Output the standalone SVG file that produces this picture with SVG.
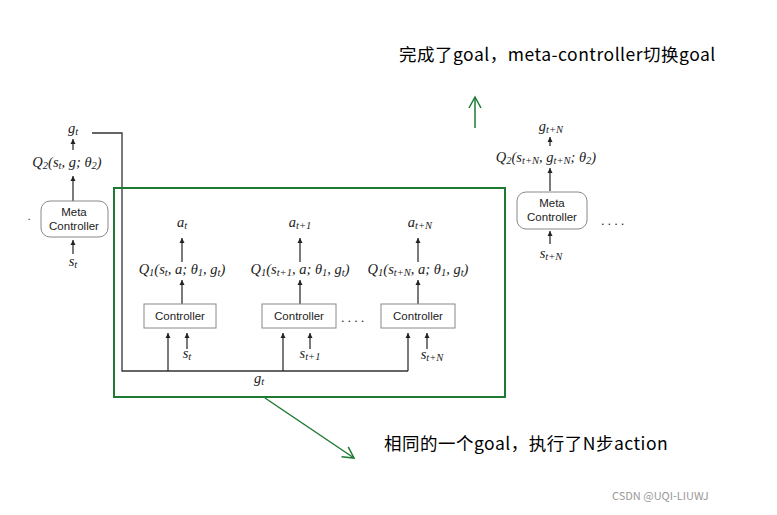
<svg xmlns="http://www.w3.org/2000/svg" width="777" height="515" viewBox="0 0 777 515">
<defs>
<marker id="ah" markerWidth="6" markerHeight="6" refX="5" refY="3" orient="auto" markerUnits="userSpaceOnUse"><path d="M0,0.5 L5,3 L0,5.5z" fill="#222"/></marker>
<marker id="gh" markerWidth="14" markerHeight="14" refX="12" refY="7" orient="auto" markerUnits="userSpaceOnUse"><path d="M1,1 L12,7 L1,13" fill="none" stroke="#1e7a32" stroke-width="1.5"/></marker>
</defs>
<style>
.m{font-family:"Liberation Serif",serif;font-style:italic;font-size:14.5px;fill:#222;text-anchor:middle}
.s{font-size:10.5px}
.b{font-family:"Liberation Sans",Arial,sans-serif;font-size:11.5px;fill:#222;text-anchor:middle}
.box{fill:#fff;stroke:#888;stroke-width:1}
.ln{stroke:#333;stroke-width:1.3;fill:none}
.ar{stroke:#222;stroke-width:1.2;fill:none;marker-end:url(#ah)}
.cn{font-family:"Noto Sans CJK SC","Noto Sans",sans-serif;font-size:17.5px;letter-spacing:0.5px;fill:#000}
.d{font-family:"Liberation Sans",Arial,sans-serif;font-size:13px;letter-spacing:3px;fill:#222}
</style>
<rect width="777" height="515" fill="#fff"/>
<g id="connectors">
<path class="ln" d="M92,133 H122 V371 H408"/>
<path class="ar" d="M168,371 V333"/><path class="ar" d="M283,371 V333"/><path class="ar" d="M408,371 V333"/>
<path class="ar" d="M73,201 V176"/><path class="ar" d="M73,150 V139"/><path class="ar" d="M73,254 V240"/>
<path class="ar" d="M187,349 V333"/><path class="ar" d="M310,349 V333"/><path class="ar" d="M427,349 V333"/>
<path class="ar" d="M182,304 V280"/><path class="ar" d="M300,304 V280"/><path class="ar" d="M418,304 V280"/>
<path class="ar" d="M182,262 V238"/><path class="ar" d="M300,262 V238"/><path class="ar" d="M418,262 V238"/>
<path class="ar" d="M550,191 V168"/><path class="ar" d="M550,146 V137"/><path class="ar" d="M550,244 V231"/>
<path d="M475,128 V97" stroke="#1e7a32" stroke-width="1.5" marker-end="url(#gh)"/>
<path d="M265,398 L354,458" stroke="#1e7a32" stroke-width="1.5" marker-end="url(#gh)"/>
</g>
<rect x="114" y="188" width="391" height="209" fill="none" stroke="#1e7a32" stroke-width="2"/>
<g id="meta1"><rect class="box" x="41" y="201" width="67" height="36" rx="9"/><text class="b" x="74" y="216">Meta</text><text class="b" x="74" y="230">Controller</text></g>
<g id="meta2"><rect class="box" x="517" y="192" width="70" height="37" rx="9"/><text class="b" x="552" y="207">Meta</text><text class="b" x="552" y="221">Controller</text></g>
<g id="c1"><rect class="box" x="144" y="304" width="72" height="24"/><text class="b" x="180" y="320">Controller</text></g>
<g id="c2"><rect class="box" x="262" y="304" width="74" height="24"/><text class="b" x="299" y="320">Controller</text></g>
<g id="c3"><rect class="box" x="381" y="304" width="74" height="24"/><text class="b" x="418" y="320">Controller</text></g>
<g id="labels">
<text class="m" x="73" y="133">g<tspan class="s" dy="2">t</tspan></text>
<text class="m" x="67" y="167">Q<tspan class="s" dy="2">2</tspan><tspan dy="-2">(s</tspan><tspan class="s" dy="2">t</tspan><tspan dy="-2">, g; θ</tspan><tspan class="s" dy="2">2</tspan><tspan dy="-2">)</tspan></text>
<text class="m" x="73" y="266">s<tspan class="s" dy="2">t</tspan></text>
<text class="m" x="182" y="227">a<tspan class="s" dy="2">t</tspan></text>
<text class="m" x="300" y="227">a<tspan class="s" dy="2">t+1</tspan></text>
<text class="m" x="420" y="227">a<tspan class="s" dy="2">t+N</tspan></text>
<text class="m" x="182" y="274">Q<tspan class="s" dy="2">1</tspan><tspan dy="-2">(s</tspan><tspan class="s" dy="2">t</tspan><tspan dy="-2">, a; θ</tspan><tspan class="s" dy="2">1</tspan><tspan dy="-2">, g</tspan><tspan class="s" dy="2">t</tspan><tspan dy="-2">)</tspan></text>
<text class="m" x="300" y="274">Q<tspan class="s" dy="2">1</tspan><tspan dy="-2">(s</tspan><tspan class="s" dy="2">t+1</tspan><tspan dy="-2">, a; θ</tspan><tspan class="s" dy="2">1</tspan><tspan dy="-2">, g</tspan><tspan class="s" dy="2">t</tspan><tspan dy="-2">)</tspan></text>
<text class="m" x="418" y="274">Q<tspan class="s" dy="2">1</tspan><tspan dy="-2">(s</tspan><tspan class="s" dy="2">t+N</tspan><tspan dy="-2">, a; θ</tspan><tspan class="s" dy="2">1</tspan><tspan dy="-2">, g</tspan><tspan class="s" dy="2">t</tspan><tspan dy="-2">)</tspan></text>
<text class="m" x="187" y="358">s<tspan class="s" dy="2">t</tspan></text>
<text class="m" x="310" y="358">s<tspan class="s" dy="2">t+1</tspan></text>
<text class="m" x="432" y="359">s<tspan class="s" dy="2">t+N</tspan></text>
<text class="m" x="259" y="383">g<tspan class="s" dy="2">t</tspan></text>
<text class="d" x="341" y="322">....</text>
<text class="m" x="551" y="131">g<tspan class="s" dy="2">t+N</tspan></text>
<text class="m" x="546" y="162">Q<tspan class="s" dy="2">2</tspan><tspan dy="-2">(s</tspan><tspan class="s" dy="2">t+N</tspan><tspan dy="-2">, g</tspan><tspan class="s" dy="2">t+N</tspan><tspan dy="-2">; θ</tspan><tspan class="s" dy="2">2</tspan><tspan dy="-2">)</tspan></text>
<text class="m" x="551" y="258">s<tspan class="s" dy="2">t+N</tspan></text>
<text class="d" x="601" y="225">....</text>
<text class="b" x="29" y="220">.</text>
<text class="cn" x="399" y="61">完成了goal，meta-controller切换goal</text>
<text class="cn" x="384" y="450">相同的一个goal，执行了N步action</text>
<text x="612" y="500" style="font-family:'Noto Sans CJK SC',sans-serif;font-size:11px;fill:#999">CSDN @UQI-LIUWJ</text>
</g>
</svg>
